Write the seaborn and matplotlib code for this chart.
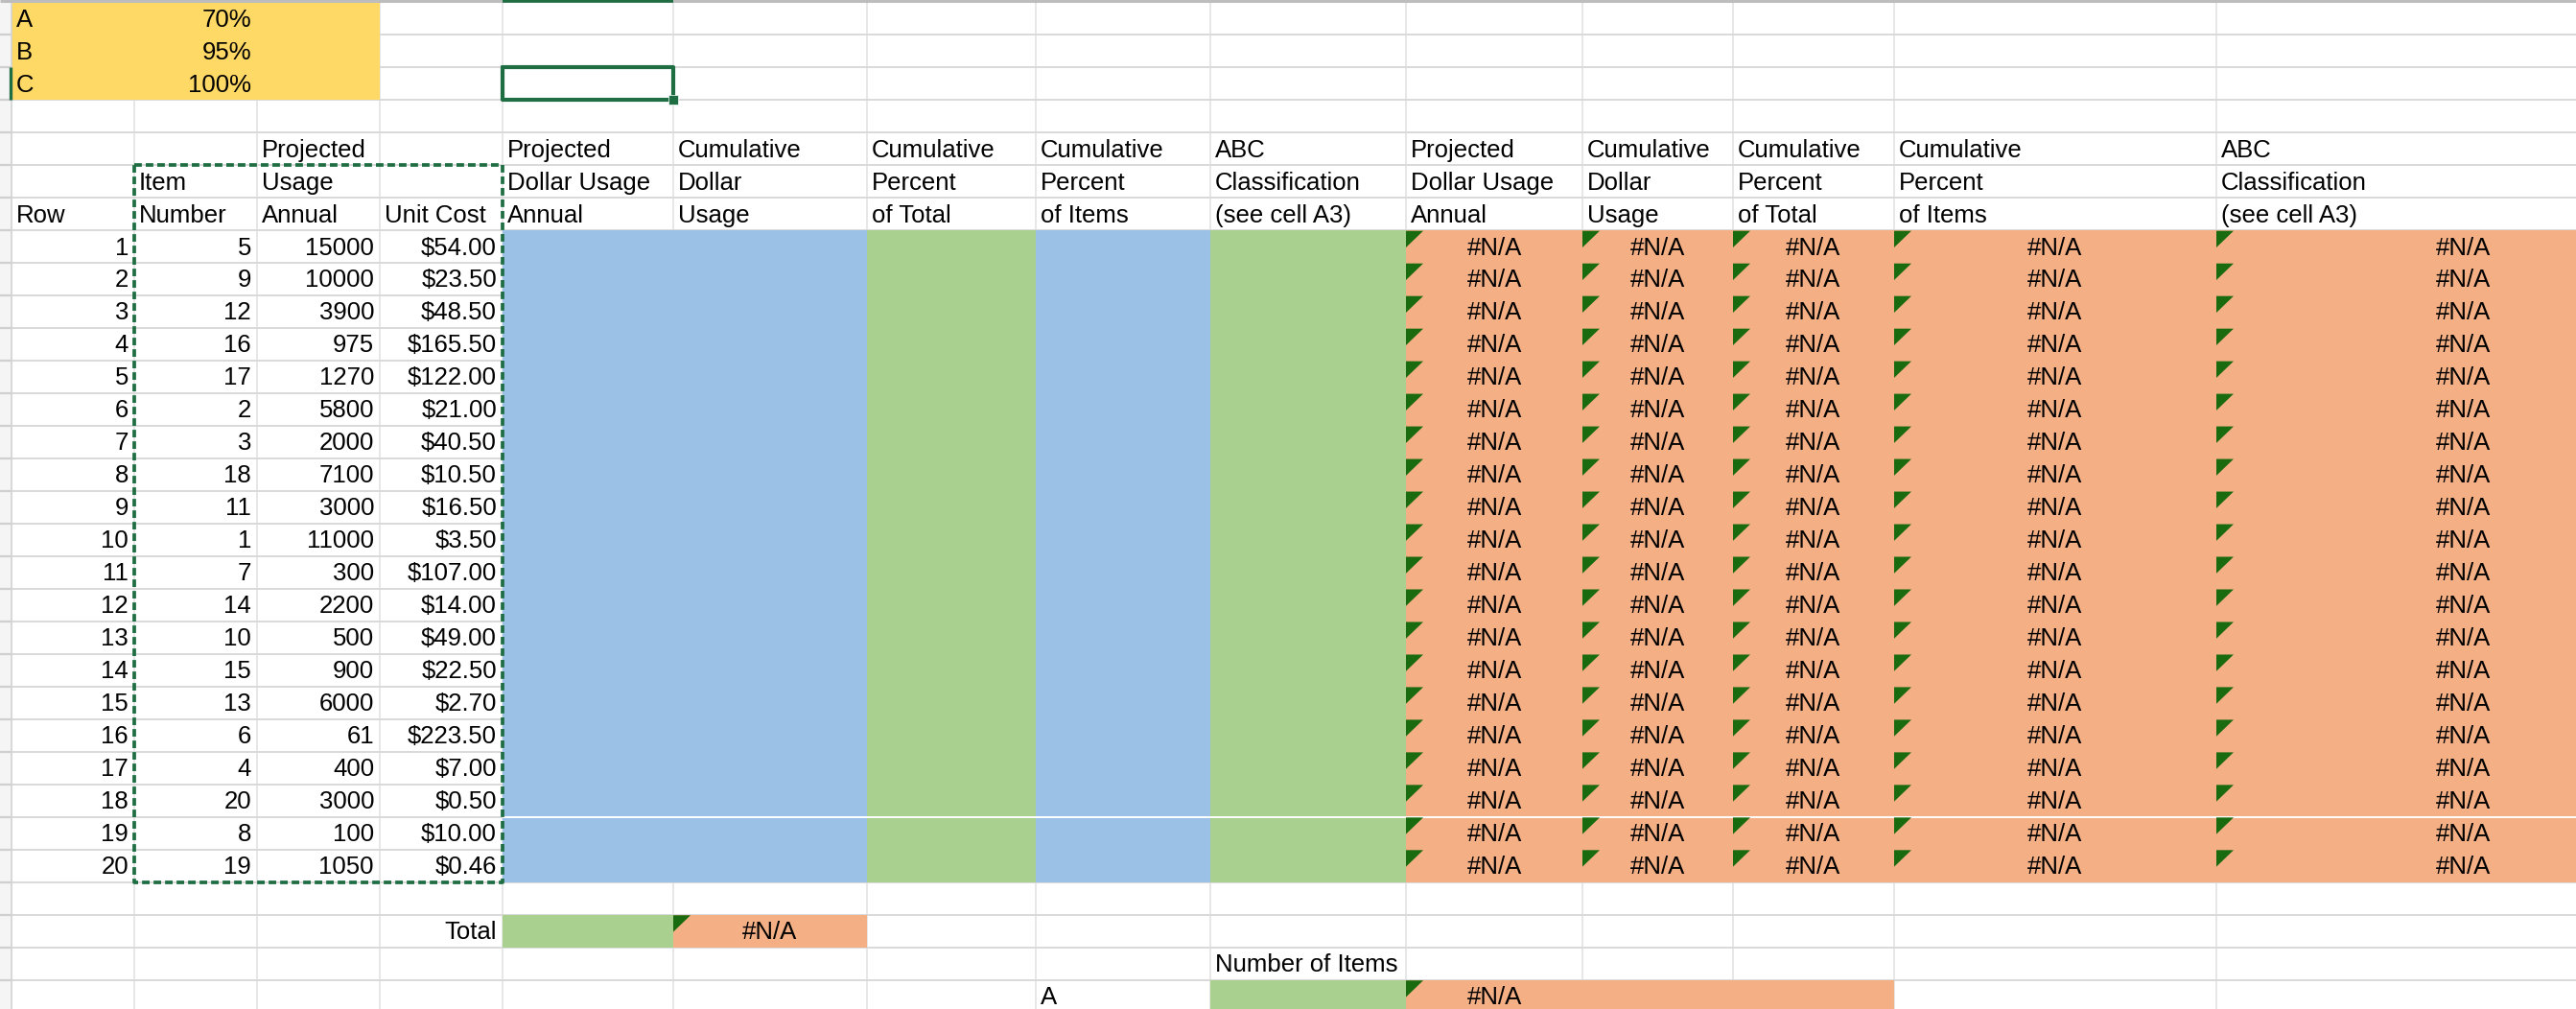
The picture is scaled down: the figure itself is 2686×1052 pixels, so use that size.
import numpy as np
import pandas as pd
from matplotlib import pyplot as plt
from matplotlib.colors import ListedColormap
import seaborn as sns

# data from the sheet
row_numbers = list(range(1, 21))
item_numbers = [5, 9, 12, 16, 17, 2, 3, 18, 11, 1, 7, 14, 10, 15, 13, 6, 4, 20, 8, 19]
annual_usage = [15000, 10000, 3900, 975, 1270, 5800, 2000, 7100, 3000, 11000,
                300, 2200, 500, 900, 6000, 61, 400, 3000, 100, 1050]
unit_cost = ['$54.00', '$23.50', '$48.50', '$165.50', '$122.00', '$21.00', '$40.50',
             '$10.50', '$16.50', '$3.50', '$107.00', '$14.00', '$49.00', '$22.50',
             '$2.70', '$223.50', '$7.00', '$0.50', '$10.00', '$0.46']
abc_labels = ['A', 'B', 'C']
abc_limits = ['70%', '95%', '100%']
left_headers = {1: ['Item', 'Number'], 2: ['Projected', 'Usage', 'Annual'], 3: ['Unit Cost']}
block_headers = [['Projected', 'Dollar Usage', 'Annual'],
                 ['Cumulative', 'Dollar', 'Usage'],
                 ['Cumulative', 'Percent', 'of Total'],
                 ['Cumulative', 'Percent', 'of Items'],
                 ['ABC', 'Classification', '(see cell A3)']]

# layout of the sheet, in pixels across and in rows down
col_edges = [12, 140, 268, 396, 524, 702, 904, 1080, 1262, 1466, 1650, 1807, 1975, 2311, 2686]
last_col_right = 2825
n_rows = 31
row_px = 33.98
top_px = 2.5
WHITE, HEADER, YELLOW, BLUE, GREEN, ORANGE = range(6)
colors = ['#ffffff', '#f5f5f5', '#ffd966', '#9bc2e6', '#a9d08e', '#f4b084']

grid = np.zeros((n_rows, len(col_edges)), dtype=int)
grid[:, 0] = HEADER
grid[0:3, 1:4] = YELLOW
grid[7:27, 5:7] = BLUE
grid[7:27, 7] = GREEN
grid[7:27, 8] = BLUE
grid[7:27, 9] = GREEN
grid[7:27, 10:] = ORANGE
grid[28, 5] = GREEN
grid[28, 6] = ORANGE
grid[30, 9] = GREEN
grid[30, 10:13] = ORANGE

col_widths = np.diff([0] + col_edges)
cells = pd.DataFrame(np.repeat(grid, col_widths, axis=1))

sns.set_theme(style='white')
plt.rcParams['font.family'] = ['Liberation Sans', 'DejaVu Sans']

fig = plt.figure(figsize=(26.86, 10.52), dpi=100)
ax = fig.add_axes([0, 0, 1, 1])
sns.heatmap(cells, mask=cells == WHITE, cmap=ListedColormap(colors), vmin=0, vmax=5,
            cbar=False, xticklabels=False, yticklabels=False, ax=ax)
ax.set_xlim(0, 2686)
ax.set_ylim((1052 - top_px) / row_px, -top_px / row_px)

# gridlines sit under the coloured cells
ax.vlines(col_edges[:-1], 0, n_rows, color='#e0e0e0', lw=1.1, zorder=0.5)
ax.hlines(range(1, n_rows), 0, 2686, color='#d9d9d9', lw=1.4, zorder=0.5)
ax.hlines(range(1, n_rows), 0, 12, color='#d0d0d0', lw=1.6, zorder=2)
ax.vlines(12, 0, n_rows, color='#d4d4d4', lw=1.2, zorder=2)
ax.hlines(25, 524, 2686, color='white', lw=1.4, zorder=2)

fs = 18.5


def left(col, row, s):
    x = col_edges[col] if col >= 0 else 0
    ax.text(x + 5, row + 0.74, s, fontsize=fs, color='black', ha='left', va='baseline', zorder=4)


def right(col, row, s):
    ax.text(col_edges[col + 1] - 6, row + 0.74, s, fontsize=fs, color='black', ha='right', va='baseline', zorder=4)


def error_cell(col, row, right_edge=None):
    x0 = col_edges[col]
    x1 = col_edges[col + 1] if right_edge is None else right_edge
    ax.text((x0 + x1) / 2, row + 0.74, '#N/A', fontsize=fs, color='black', ha='center', va='baseline', zorder=4)
    ax.fill([x0, x0 + 18, x0], [row + 0.01, row + 0.01, row + 0.52], color='#1a6b10', lw=0, zorder=3)


for i, (lab, lim) in enumerate(zip(abc_labels, abc_limits)):
    left(0, i, lab)
    right(1, i, lim)

left(0, 6, 'Row')
for col, lines in left_headers.items():
    for i, s in enumerate(lines):
        left(col, 7 - len(lines) + i, s)

for b, start in enumerate([4, 9]):
    for c, lines in enumerate(block_headers):
        for i, s in enumerate(lines):
            left(start + c, 4 + i, s)

for i in range(20):
    row = 7 + i
    right(0, row, str(row_numbers[i]))
    right(1, row, str(item_numbers[i]))
    right(2, row, str(annual_usage[i]))
    right(3, row, unit_cost[i])
    for col in range(9, 13):
        error_cell(col, row)
    error_cell(13, row, right_edge=last_col_right)

right(3, 28, 'Total')
error_cell(5, 28)
left(8, 29, 'Number of Items')
left(7, 30, 'A')
error_cell(9, 30)

# window chrome: top rule, selected cell, marching ants around the copied range
green = '#1f6e43'
ax.hlines(-0.03, 0, 2686, color='#bdbdbd', lw=2.2, zorder=5)
ax.hlines(-0.05, 524, 702, color=green, lw=2.6, zorder=6)
ax.vlines(11, 2, 3, color=green, lw=2.4, zorder=5)
ax.plot([524, 702, 702, 524, 524], [2, 2, 3, 3, 2], color=green, lw=3.0, zorder=6)
ax.plot([702], [3], marker='s', ms=6.5, color=green, mec='white', mew=0.5, zorder=7)
ax.plot([140, 524, 524, 140, 140], [5, 5, 27, 27, 5], color=green, lw=2.7,
        ls=(0, (2.1, 1.1)), zorder=6)

for s in ax.spines.values():
    s.set_visible(False)

fig.savefig('out.png', dpi=100)
